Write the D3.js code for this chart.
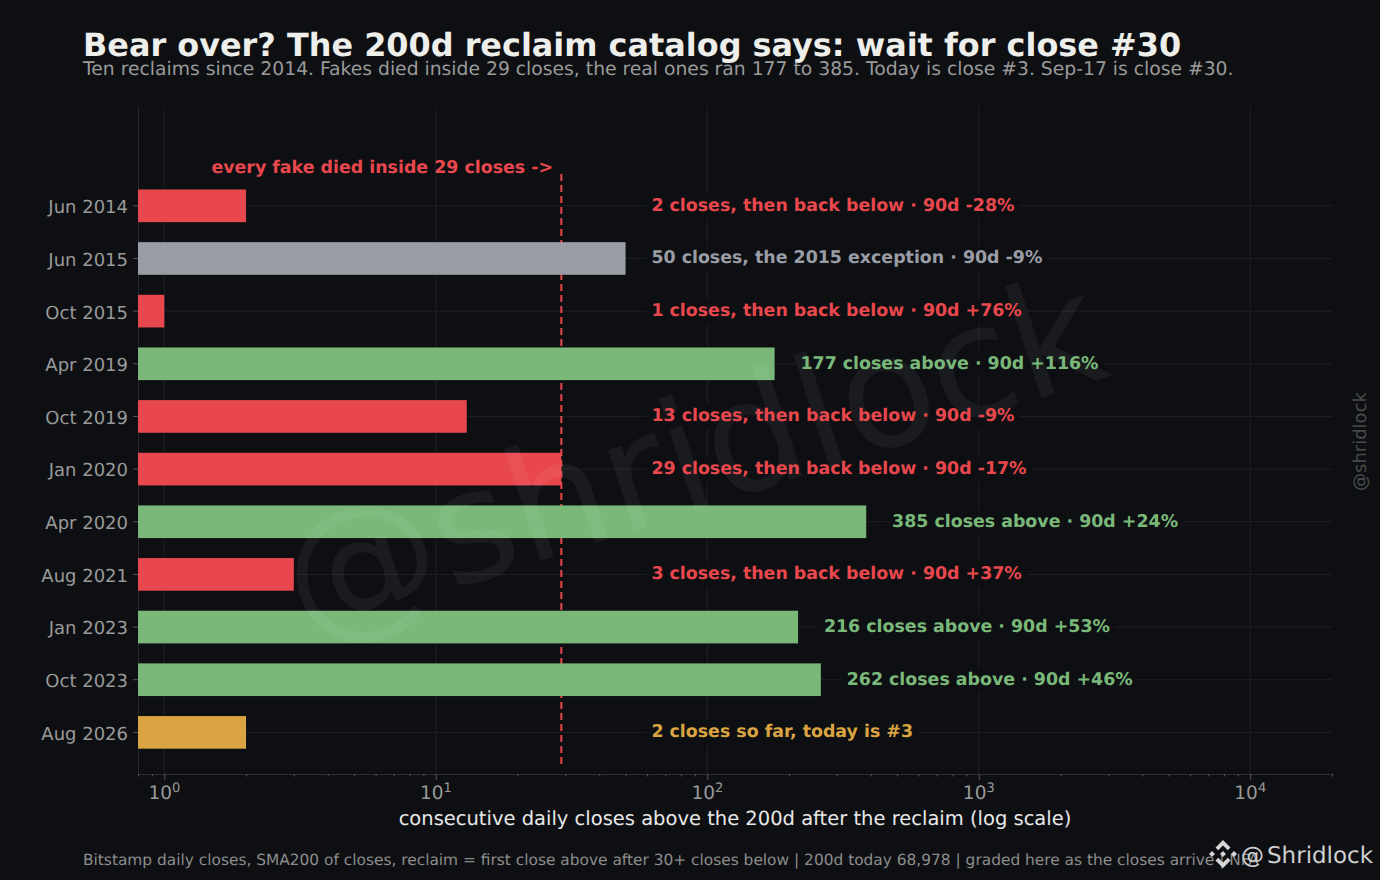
<!DOCTYPE html>
<html>
<head>
<meta charset="utf-8">
<script src="https://cdn.jsdelivr.net/npm/d3@7"></script>
<style>
  html, body { margin: 0; padding: 0; background: #0d0f12; }
  svg { display: block; font-family: "DejaVu Sans", sans-serif; text-rendering: geometricPrecision; }
</style>
</head>
<body>
<div id="chart"></div>
<script>
// data
var reclaims = ["Jun 2014", "Jun 2015", "Oct 2015", "Apr 2019", "Oct 2019", "Jan 2020", "Apr 2020", "Aug 2021", "Jan 2023", "Oct 2023", "Aug 2026"];
var closes = [2, 50, 1, 177, 13, 29, 385, 3, 216, 262, 2];
var kinds = ["fake", "exception", "fake", "real", "fake", "fake", "real", "fake", "real", "real", "today"];
var notes = [
  "2 closes, then back below · 90d -28%",
  "50 closes, the 2015 exception · 90d -9%",
  "1 closes, then back below · 90d +76%",
  "177 closes above · 90d +116%",
  "13 closes, then back below · 90d -9%",
  "29 closes, then back below · 90d -17%",
  "385 closes above · 90d +24%",
  "3 closes, then back below · 90d +37%",
  "216 closes above · 90d +53%",
  "262 closes above · 90d +46%",
  "2 closes so far, today is #3"
];
var majorTicks = [1, 10, 100, 1000, 10000];
var minorTicks = [0.8, 0.9, 2, 3, 4, 5, 6, 7, 8, 9, 20, 30, 40, 50, 60, 70, 80, 90, 200, 300, 400, 500, 600, 700, 800, 900, 2000, 3000, 4000, 5000, 6000, 7000, 8000, 9000, 20000];
var fakeLimit = 29;
var labelFloor = 50;

var largeur = 1380, hauteur = 880;
var fond = "#0d0f12";
var colors = { fake: "#e8484d", exception: "#9a9da5", real: "#7ab87a", today: "#d9a441" };
var gridColor = "#1f2023";

var svg = d3.select("#chart").append("svg")
  .attr("width", largeur)
  .attr("height", hauteur);

svg.append("rect").attr("width", largeur).attr("height", hauteur).attr("fill", fond);

// scales
var x = d3.scaleLog().domain([0.8, 20000]).range([138, 1332]);
var y = d3.scaleBand().domain(reclaims).range([179.5, 758.7]).paddingInner(0.38).paddingOuter(0.19);
var yTop = 106, yBottom = 774;

// grid
var grid = svg.append("g");
grid.selectAll(".vgrid").data(majorTicks).enter().append("line")
  .attr("x1", function(d) { return x(d); })
  .attr("x2", function(d) { return x(d); })
  .attr("y1", yTop).attr("y2", yBottom)
  .attr("stroke", gridColor);
grid.selectAll(".hgrid").data(reclaims).enter().append("line")
  .attr("x1", 138).attr("x2", 1332)
  .attr("y1", function(d) { return y(d) + y.bandwidth() / 2; })
  .attr("y2", function(d) { return y(d) + y.bandwidth() / 2; })
  .attr("stroke", gridColor);
grid.append("line").attr("x1", 138.5).attr("x2", 138.5).attr("y1", yTop).attr("y2", yBottom).attr("stroke", "#26272a");

// limit line, under the bars
svg.append("line")
  .attr("x1", x(fakeLimit)).attr("x2", x(fakeLimit))
  .attr("y1", 174).attr("y2", 765)
  .attr("stroke", "#e8484d")
  .attr("stroke-width", 2)
  .attr("stroke-dasharray", "7 4");

// bars
svg.selectAll(".bar").data(reclaims).enter().append("rect")
  .attr("class", "bar")
  .attr("x", x(0.8))
  .attr("y", function(d) { return y(d); })
  .attr("width", function(d, i) { return x(closes[i]) - x(0.8); })
  .attr("height", y.bandwidth())
  .attr("fill", function(d, i) { return colors[kinds[i]]; });

var noteBoxes = svg.append("g");

// watermark, on top of the bars
svg.append("text")
  .attr("transform", "translate(303,638) rotate(-18)")
  .attr("font-size", 155)
  .attr("fill", "#ffffff")
  .attr("fill-opacity", 0.05)
  .text("@shridlock");

svg.append("text")
  .attr("x", 553).attr("y", 173)
  .attr("text-anchor", "end")
  .attr("font-size", 17.4).attr("font-weight", "bold")
  .attr("fill", "#e8484d")
  .text("every fake died inside 29 closes ->");

// bar notes, each with a box that cuts the grid
var noteText = svg.selectAll(".note").data(reclaims).enter().append("text")
  .attr("class", "note")
  .attr("x", function(d, i) { return x(Math.max(closes[i], labelFloor) * 1.245); })
  .attr("y", function(d) { return y(d) + y.bandwidth() / 2 + 5; })
  .attr("font-size", 17.4).attr("font-weight", "bold")
  .attr("fill", function(d, i) { return colors[kinds[i]]; })
  .text(function(d, i) { return notes[i]; });
noteText.each(function() {
  var b = this.getBBox();
  noteBoxes.append("rect")
    .attr("x", b.x - 5).attr("y", b.y - 2)
    .attr("width", b.width + 10).attr("height", b.height + 4)
    .attr("fill", fond);
});

// x axis
var axisMinor = d3.axisBottom(x).tickValues(minorTicks).tickSize(2.5).tickFormat("");
var gMinor = svg.append("g").attr("transform", "translate(0," + yBottom + ")").call(axisMinor);
gMinor.select(".domain").attr("stroke", "#2c2d30");
gMinor.selectAll("line").attr("stroke", "#55565a");

var axisMajor = d3.axisBottom(x).tickValues(majorTicks).tickSize(6).tickFormat("");
var gMajor = svg.append("g").attr("transform", "translate(0," + yBottom + ")").call(axisMajor);
gMajor.select(".domain").remove();
gMajor.selectAll("line").attr("stroke", "#55565a");

var tickText = svg.selectAll(".xtick").data(majorTicks).enter().append("text")
  .attr("class", "xtick")
  .attr("x", function(d) { return x(d); })
  .attr("y", 799)
  .attr("text-anchor", "middle")
  .attr("font-size", 18.5)
  .attr("fill", "#9a9a9a");
tickText.append("tspan").text("10");
tickText.append("tspan")
  .attr("dy", -7).attr("font-size", 13)
  .text(function(d) { return Math.round(Math.log10(d)); });

// y axis
var axisY = d3.axisLeft(y).tickSize(5).tickPadding(5);
var gY = svg.append("g").attr("transform", "translate(138,0)").call(axisY);
gY.select(".domain").remove();
gY.selectAll("line").attr("stroke", "#55565a");
gY.selectAll("text")
  .attr("font-size", 18)
  .attr("dy", "0.41em")
  .attr("fill", "#9a9a9a")
  .attr("font-family", "DejaVu Sans");

svg.append("text")
  .attr("x", 735).attr("y", 825)
  .attr("text-anchor", "middle")
  .attr("font-size", 19.5)
  .attr("fill", "#e8e8e8")
  .text("consecutive daily closes above the 200d after the reclaim (log scale)");

// titles
svg.append("text")
  .attr("x", 83).attr("y", 56)
  .attr("font-size", 31.9).attr("font-weight", "bold")
  .attr("fill", "#eeeeea")
  .text("Bear over? The 200d reclaim catalog says: wait for close #30");
svg.append("text")
  .attr("x", 83).attr("y", 75)
  .attr("font-size", 18.75)
  .attr("fill", "#9a9a9a")
  .text("Ten reclaims since 2014. Fakes died inside 29 closes, the real ones ran 177 to 385. Today is close #3. Sep-17 is close #30.");

// footer
svg.append("text")
  .attr("x", 83).attr("y", 865)
  .attr("font-size", 15.4)
  .attr("fill", "#8c8c8c")
  .text("Bitstamp daily closes, SMA200 of closes, reclaim = first close above after 30+ closes below | 200d today 68,978 | graded here as the closes arrive | NFA");

// side handle
svg.append("text")
  .attr("transform", "translate(1366,491) rotate(-90)")
  .attr("font-size", 18)
  .attr("fill", "#4a4b4d")
  .text("@shridlock");

// logo and name
var logo = svg.append("g").attr("transform", "translate(1223,854)").attr("fill", "#d6d6d6");
logo.append("path").attr("d", "M0,-14 L7.5,-6.5 L4.8,-3.8 L0,-8.6 L-4.8,-3.8 L-7.5,-6.5 Z");
logo.append("path").attr("d", "M0,14 L7.5,6.5 L4.8,3.8 L0,8.6 L-4.8,3.8 L-7.5,6.5 Z");
logo.append("path").attr("d", "M-14,0 L-11,-3 L-8,0 L-11,3 Z");
logo.append("path").attr("d", "M14,0 L11,-3 L8,0 L11,3 Z");
logo.append("path").attr("d", "M0,-3 L3,0 L0,3 L-3,0 Z");
svg.append("text")
  .attr("x", 1241).attr("y", 863)
  .attr("font-size", 23)
  .attr("fill", "#d0d0d0")
  .text("@");
svg.append("text")
  .attr("x", 1267).attr("y", 863)
  .attr("font-size", 23)
  .attr("fill", "#d0d0d0")
  .text("Shridlock");
</script>
</body>
</html>
